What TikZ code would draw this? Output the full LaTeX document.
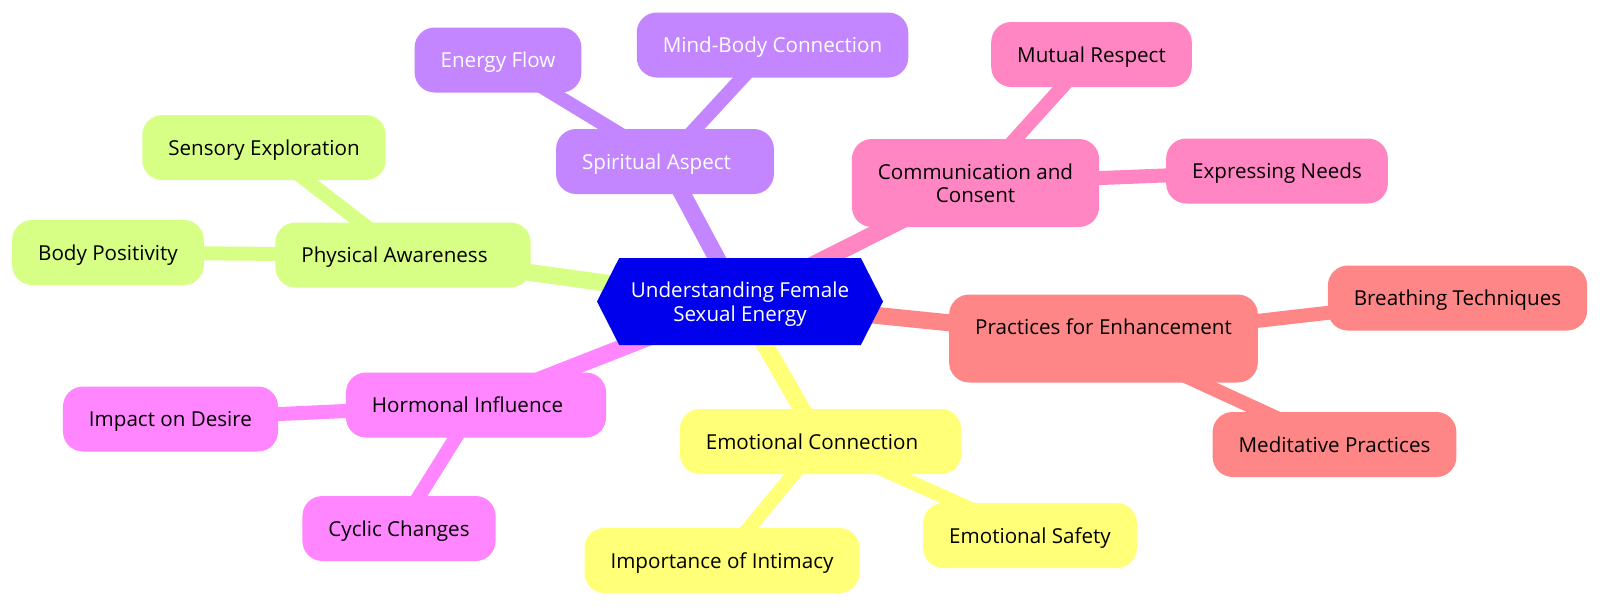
\documentclass[tikz,border=0pt]{standalone}
\usepackage{fontspec}
\setmainfont{Open Sans}
\usetikzlibrary{shapes.symbols,backgrounds}

\definecolor{rootblue}{HTML}{0000EC}
\definecolor{secyellow}{HTML}{FFFF78}
\definecolor{seclime}{HTML}{D7FF86}
\definecolor{secpurple}{HTML}{C386FF}
\definecolor{secmagenta}{HTML}{FF86FF}
\definecolor{secpink}{HTML}{FF86C3}
\definecolor{secsalmon}{HTML}{FF8686}

\begin{document}
\begin{tikzpicture}[
      x=0.5pt, y=-0.5pt,
      box/.style={rounded corners=10pt, minimum height=32.5pt, inner xsep=13pt,
        inner ysep=4pt, text height=9pt, text depth=1.5pt,
        font=\fontsize{10.3pt}{11.4pt}\selectfont},
      topic/.style={execute at end node={\kern8.5pt}},
      twoline/.style={align=center, minimum height=44pt, text height={}, text depth={}},
      rootbox/.style={shape=signal, signal to=west and east, signal pointer angle=126,
        fill=rootblue, text=white, align=center, minimum width=143pt,
        minimum height=43.5pt, inner sep=0pt, text height=23pt, text depth=2.6pt,
        font=\fontsize{10.3pt}{12pt}\selectfont},
      limebox/.style={box, fill=seclime},
      purplebox/.style={box, fill=secpurple, text=white},
      pinkbox/.style={box, fill=secpink},
      salmonbox/.style={box, fill=secsalmon},
      yellowbox/.style={box, fill=secyellow},
      magentabox/.style={box, fill=secmagenta},
      rootedge/.style={line width=8.5pt},
      leafedge/.style={line width=7pt}
    ]
    \useasboundingbox (0,0) rectangle (1600,606);

    \node[rootbox] (root) at (740,301.5) {Understanding Female\\Sexual Energy};

    % spiritual
    \node[purplebox, topic] (spirit) at (665,161.5) {Spiritual Aspect};
    \node[purplebox] (energy) at (498,60) {Energy Flow};
    \node[purplebox] (mindbody) at (772.5,45) {Mind-Body Connection};

    % physical
    \node[limebox, topic] (phys) at (403,255) {Physical Awareness};
    \node[limebox] (sensory) at (264,147.5) {Sensory Exploration};
    \node[limebox] (bodypos) at (108,252.5) {Body Positivity};

    % communication
    \node[pinkbox, twoline] (comm) at (975.5,183) {Communication and\\Consent};
    \node[pinkbox] (respect) at (1091.5,54.5) {Mutual Respect};
    \node[pinkbox] (needs) at (1277,171) {Expressing Needs};

    % practices
    \node[salmonbox, twoline] (practice) at (1103.5,338.5) {Practices for Enhancement\\\mbox{}};
    \node[salmonbox] (breathing) at (1457.5,298) {Breathing Techniques};
    \node[salmonbox] (meditate) at (1334.5,444.5) {Meditative Practices};

    % emotional
    \node[yellowbox, topic] (emotion) at (820.5,441.5) {Emotional Connection};
    \node[yellowbox] (intimacy) at (722,560.5) {Importance of Intimacy};
    \node[yellowbox] (safety) at (1030,535.5) {Emotional Safety};

    % hormonal
    \node[magentabox, topic] (hormone) at (476,405) {Hormonal Influence};
    \node[magentabox] (desire) at (170.5,419) {Impact on Desire};
    \node[magentabox] (cyclic) at (399,528.5) {Cyclic Changes};

    \begin{pgfonlayer}{background}
      \draw[rootedge, secpurple] (root.center) -- (spirit.center);
      \draw[rootedge, seclime] (root.center) -- (phys.center);
      \draw[rootedge, secpink] (root.center) -- (comm.center);
      \draw[rootedge, secsalmon] (root.center) -- (practice.center);
      \draw[rootedge, secyellow] (root.center) -- (emotion.center);
      \draw[rootedge, secmagenta] (root.center) -- (hormone.center);
      \draw[leafedge, secpurple] (spirit.center) -- (energy.center);
      \draw[leafedge, secpurple] (spirit.center) -- (mindbody.center);
      \draw[leafedge, seclime] (phys.center) -- (sensory.center);
      \draw[leafedge, seclime] (phys.center) -- (bodypos.center);
      \draw[leafedge, secpink] (comm.center) -- (respect.center);
      \draw[leafedge, secpink] (comm.center) -- (needs.center);
      \draw[leafedge, secsalmon] (practice.center) -- (breathing.center);
      \draw[leafedge, secsalmon] (practice.center) -- (meditate.center);
      \draw[leafedge, secyellow] (emotion.center) -- (intimacy.center);
      \draw[leafedge, secyellow] (emotion.center) -- (safety.center);
      \draw[leafedge, secmagenta] (hormone.center) -- (desire.center);
      \draw[leafedge, secmagenta] (hormone.center) -- (cyclic.center);
    \end{pgfonlayer}
  \end{tikzpicture}
\end{document}
